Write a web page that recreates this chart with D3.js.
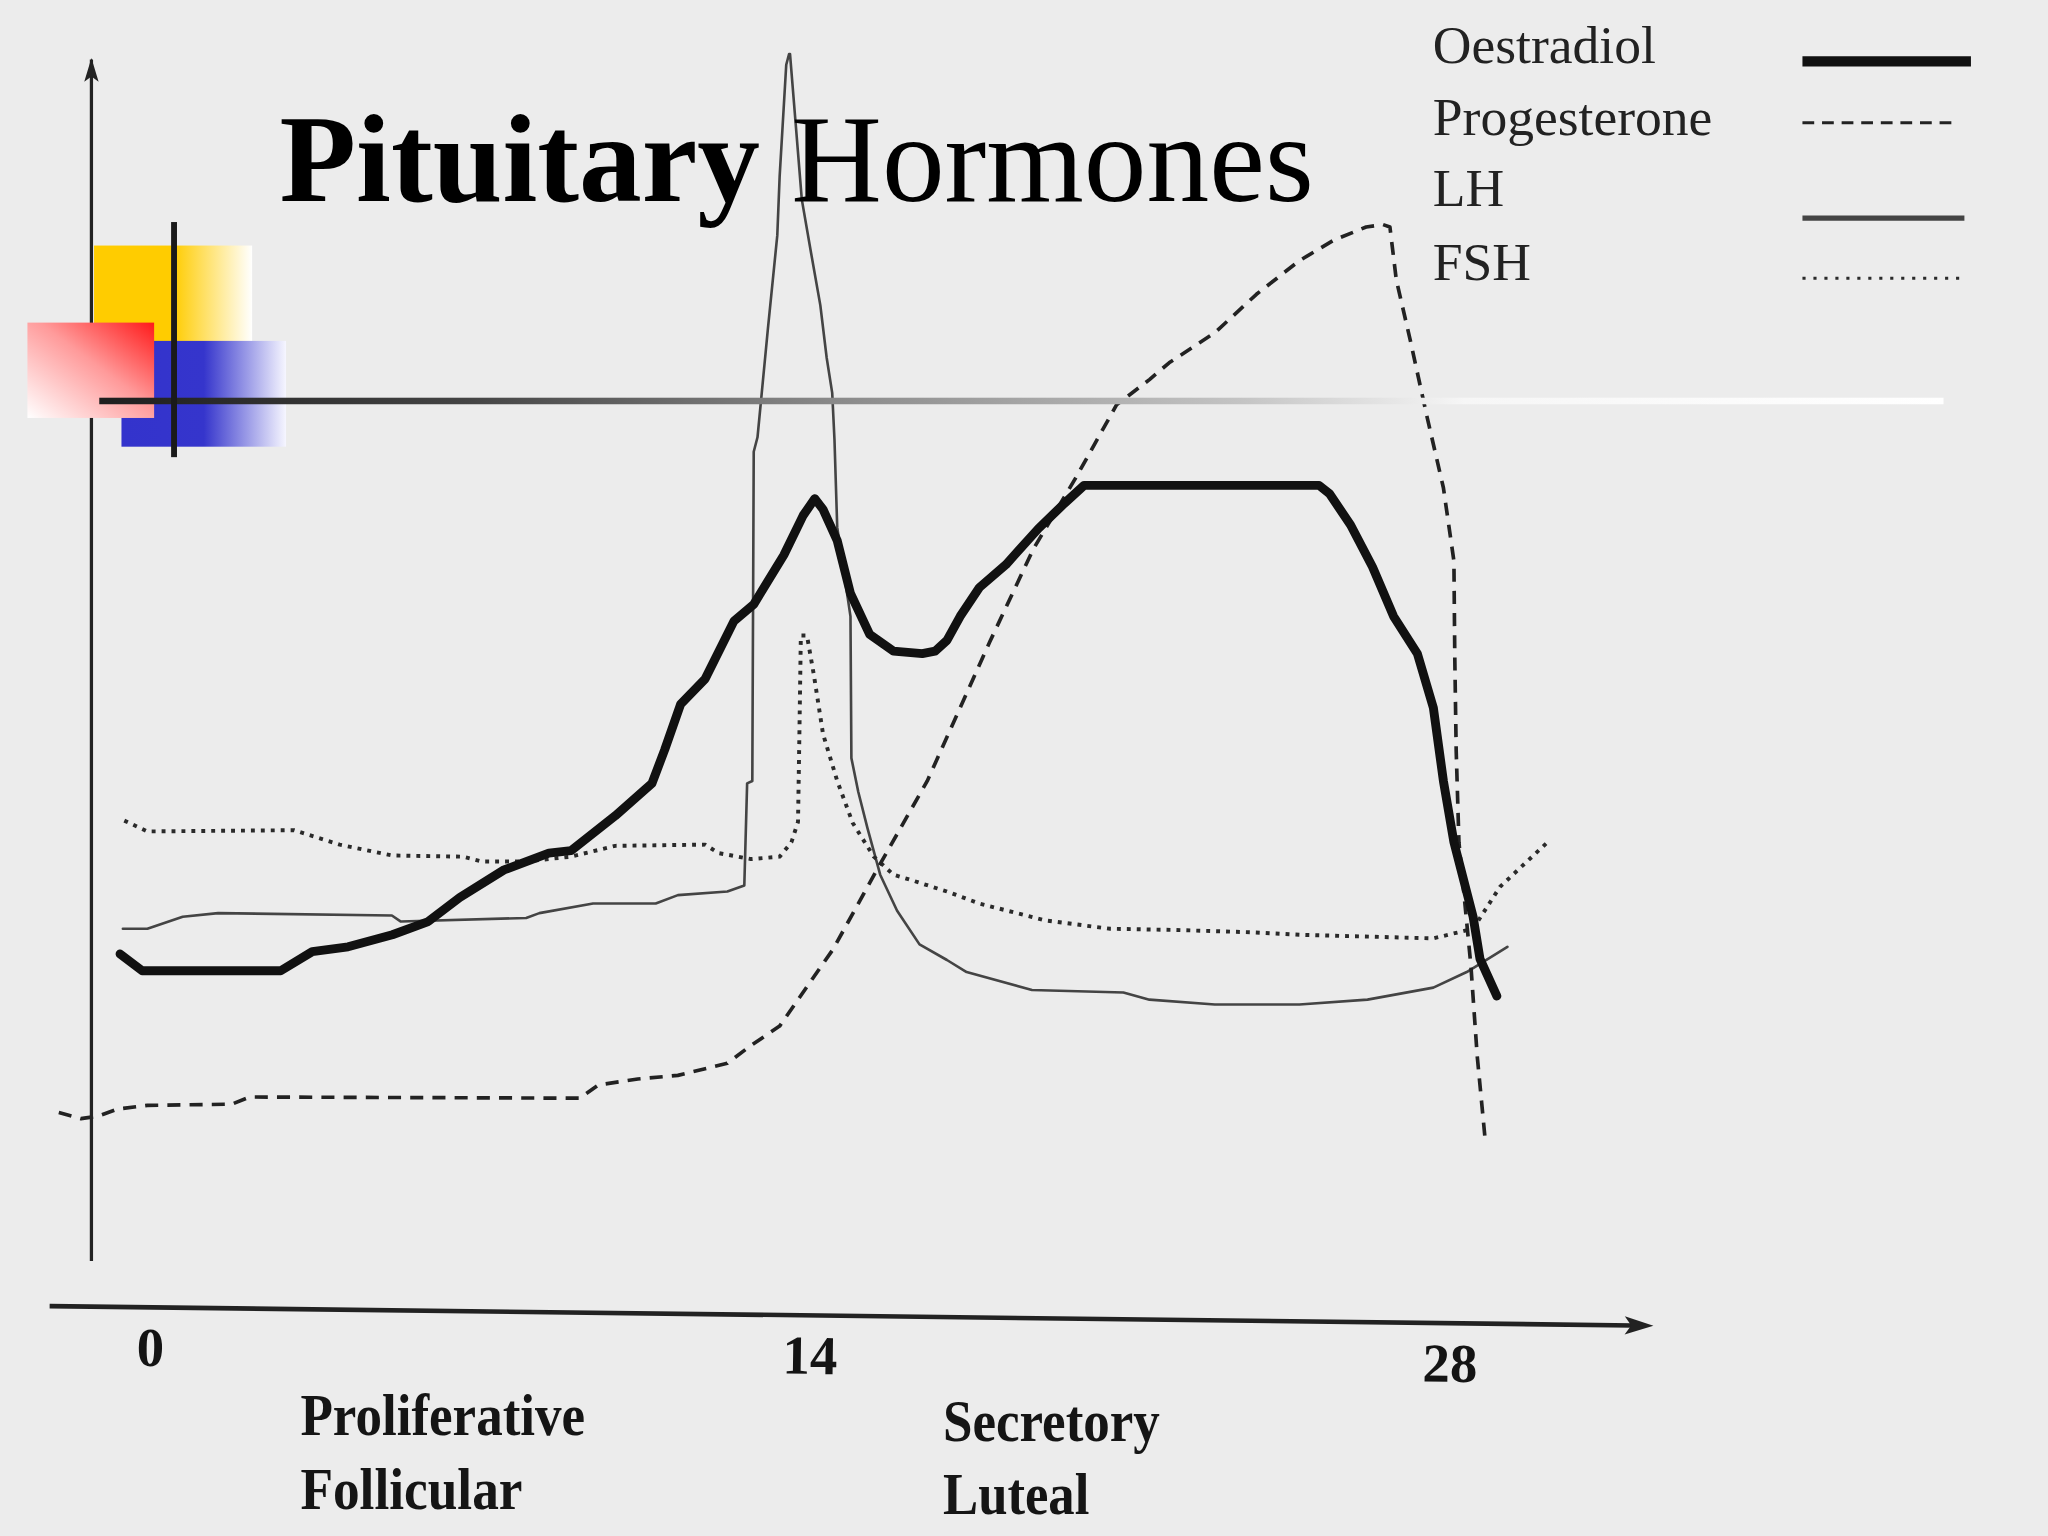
<!DOCTYPE html>
<html>
<head>
<meta charset="utf-8">
<script src="https://cdn.jsdelivr.net/npm/d3@7"></script>
<style>
  html, body { margin: 0; padding: 0; background: #ececec; }
  svg { display: block; }
</style>
</head>
<body>
<div id="chart"></div>
<script>
// cycle day on x, relative level (0-100) on y
const tickDays = [0, 14, 28];
const hormones = ["Oestradiol", "Progesterone", "LH", "FSH"];
const phaseTop = ["Proliferative", "Secretory"];
const phaseBottom = ["Follicular", "Luteal"];

const oestradiol = [
  [-0.64, 25.5], [-0.17, 24.1], [2.77, 24.1], [3.44, 25.7], [4.2, 26.1], [5.14, 27.1],
  [5.9, 28.2], [6.57, 30.2], [7.51, 32.5], [8.46, 33.9], [8.93, 34.1], [9.87, 37.0],
  [10.65, 39.7], [10.92, 42.5], [11.26, 46.3], [11.78, 48.4], [12.39, 53.2], [12.81, 54.6],
  [13.45, 58.7], [13.86, 62.0], [14.11, 63.4], [14.29, 62.5], [14.6, 59.9], [14.89, 55.5],
  [15.31, 52.1], [15.83, 50.7], [16.46, 50.5], [16.74, 50.7], [17.0, 51.6], [17.29, 53.6],
  [17.71, 56.0], [18.29, 57.9], [19.0, 60.9], [19.57, 63.0], [20.0, 64.5], [25.14, 64.5],
  [25.37, 63.8], [25.83, 61.2], [26.31, 57.7], [26.77, 53.6], [27.29, 50.5], [27.64, 46.0],
  [27.86, 39.9], [28.09, 34.8], [28.51, 28.6], [28.66, 25.1], [29.03, 22.0]
];

const progesterone = [
  [-1.94, 12.3], [-1.47, 11.8], [-1.11, 12.0], [-0.69, 12.6], [-0.06, 12.9], [1.73, 13.0],
  [2.11, 13.6], [9.12, 13.5], [9.51, 14.6], [10.35, 15.1], [11.2, 15.4], [12.25, 16.4],
  [12.72, 17.8], [13.36, 19.5], [14.51, 25.9], [15.54, 33.0], [16.57, 39.9], [17.94, 51.5],
  [18.89, 59.2], [19.83, 65.2], [20.71, 71.2], [21.43, 73.3], [21.86, 74.7], [22.86, 77.2],
  [23.77, 80.4], [24.71, 83.2], [25.46, 84.9], [26.17, 86.0], [26.54, 86.2], [26.69, 86.0],
  [26.83, 81.6], [27.14, 76.5], [27.49, 70.4], [27.86, 64.3], [28.09, 58.2], [28.11, 50.0],
  [28.14, 42.4], [28.2, 34.8], [28.46, 24.6], [28.6, 17.0], [28.77, 10.2]
];

const lh = [
  [-0.58, 27.6], [-0.06, 27.6], [0.69, 28.6], [1.44, 28.9], [5.13, 28.7], [5.32, 28.2],
  [7.98, 28.5], [8.26, 28.9], [9.4, 29.7], [10.73, 29.7], [11.2, 30.4], [12.25, 30.7],
  [12.61, 31.2], [12.67, 39.7], [12.78, 39.9], [12.81, 67.3], [12.89, 68.5], [13.11, 77.5],
  [13.31, 85.3], [13.36, 90.2], [13.5, 99.5], [13.56, 100.4], [13.58, 100.4], [13.7, 94.6],
  [13.83, 88.3], [14.03, 83.8], [14.23, 79.5], [14.37, 75.1], [14.49, 72.2], [14.54, 68.3],
  [14.6, 61.0], [14.89, 53.6], [14.91, 41.8], [15.06, 39.0], [15.26, 36.0], [15.54, 32.1],
  [15.91, 29.1], [16.4, 26.3], [17.0, 25.0], [17.43, 24.0], [18.86, 22.5], [20.86, 22.3],
  [21.43, 21.7], [22.86, 21.3], [24.71, 21.3], [26.2, 21.7], [27.64, 22.7], [28.37, 24.0],
  [29.26, 26.1]
];

const fsh = [
  [-0.55, 36.6], [-0.06, 35.7], [3.05, 35.8], [4.02, 34.6], [5.13, 33.7], [6.65, 33.6],
  [7.04, 33.2], [7.98, 33.2], [8.93, 33.6], [9.87, 34.5], [11.78, 34.6], [12.06, 33.9],
  [12.75, 33.4], [13.36, 33.6], [13.61, 34.8], [13.75, 36.5], [13.78, 44.0], [13.81, 52.0],
  [13.94, 52.0], [14.09, 48.7], [14.29, 43.8], [14.6, 39.9], [14.94, 36.4], [15.4, 33.6],
  [15.83, 32.1], [16.26, 31.6], [17.0, 30.7], [17.71, 29.7], [19.14, 28.3], [20.57, 27.6],
  [22.0, 27.5], [23.71, 27.3], [24.71, 27.1], [27.64, 26.8], [28.51, 27.6], [29.1, 31.1],
  [30.11, 34.7]
];

(function () {
  const width = 1568;
  const height = 1176;
  const serif = "'Liberation Serif', 'Times New Roman', serif";

  const svg = d3
    .select("#chart")
    .append("svg")
    .attr("width", 2048)
    .attr("height", 1536)
    .attr("viewBox", [0, 0, width, height]);

  svg.append("rect").attr("width", width).attr("height", height).attr("fill", "#ececec");

  const defs = svg.append("defs");

  const addGradient = (id, coords, stops) => {
    const grad = defs.append("linearGradient").attr("id", id);
    Object.entries(coords).forEach(([k, v]) => grad.attr(k, v));
    grad
      .selectAll("stop")
      .data(stops)
      .join("stop")
      .attr("offset", d => d[0])
      .attr("stop-color", d => d[1]);
  };

  addGradient("yellowFade", { x1: 0, y1: 0, x2: 1, y2: 0 }, [[0, "#ffcc00"], [0.5, "#ffcc00"], [1, "#ffffff"]]);
  addGradient("blueFade", { x1: 0, y1: 0, x2: 1, y2: 0 }, [[0, "#3333cc"], [0.5, "#3535cc"], [1, "#f6f6ff"]]);
  addGradient("redFade", { x1: 0, y1: 1, x2: 1, y2: 0 }, [[0, "#ffffff"], [0.55, "#ff9a9a"], [1, "#ff1a1a"]]);
  addGradient("ruleFade", { x1: 0, y1: 0, x2: 1, y2: 0 }, [
    [0, "#1e1e1e"], [0.2, "#444"], [0.4, "#8a8a8a"], [0.62, "#c4c4c4"], [0.74, "#f6f6f6"], [1, "#ffffff"]
  ]);

  defs
    .append("marker")
    .attr("id", "arrowUp")
    .attr("viewBox", "0 0 18 11")
    .attr("refX", 17)
    .attr("refY", 5.5)
    .attr("markerUnits", "userSpaceOnUse")
    .attr("markerWidth", 18)
    .attr("markerHeight", 11)
    .attr("orient", "auto")
    .append("path")
    .attr("d", "M0,0L18,5.5L0,11L4,5.5Z")
    .attr("fill", "#222");

  const xScale = d3.scaleLinear().domain([0, 14, 28]).range([115, 620, 1110]);
  const yScale = d3.scaleLinear().domain([0, 100]).range([965, 45]);

  // y axis: plain arrowed line, no ticks
  const yAxisG = svg
    .append("g")
    .attr("transform", "translate(69.5, 0)")
    .call(d3.axisLeft(yScale).tickValues([]).tickSizeOuter(0));
  yAxisG.select(".domain").attr("stroke", "#222").attr("stroke-width", 2.5).attr("marker-end", "url(#arrowUp)");

  // x axis, slightly tilted as in the scan
  const xAxisG = svg
    .append("g")
    .attr("transform", "rotate(0.7, 38, 1000) translate(0, 1000)")
    .call(d3.axisBottom(xScale).tickValues(tickDays).tickSize(0).tickPadding(15));
  xAxisG.select(".domain").remove();
  xAxisG
    .selectAll(".tick text")
    .attr("font-family", serif)
    .attr("font-weight", "bold")
    .attr("font-size", 42)
    .attr("fill", "#141414");

  xAxisG
    .append("line")
    .attr("x1", 38)
    .attr("x2", 1250)
    .attr("y1", 0)
    .attr("y2", 0)
    .attr("stroke", "#222")
    .attr("stroke-width", 3.5);
  xAxisG.append("path").attr("d", "M1266,0L1244,-7L1249,0L1244,7Z").attr("fill", "#222");

  // phase labels
  const phaseX = [230, 722];
  const phaseLen = [[218, 170], [166, 112]];
  svg
    .selectAll(".phaseTop")
    .data(phaseTop)
    .join("text")
    .attr("class", "phaseTop")
    .attr("x", (d, i) => phaseX[i])
    .attr("y", (d, i) => (i === 0 ? 1099 : 1103))
    .attr("textLength", (d, i) => phaseLen[i][0])
    .attr("lengthAdjust", "spacingAndGlyphs")
    .attr("font-family", serif)
    .attr("font-weight", "bold")
    .attr("font-size", 45)
    .attr("fill", "#151515")
    .text(d => d);
  svg
    .selectAll(".phaseBottom")
    .data(phaseBottom)
    .join("text")
    .attr("class", "phaseBottom")
    .attr("x", (d, i) => phaseX[i])
    .attr("y", (d, i) => (i === 0 ? 1155 : 1159))
    .attr("textLength", (d, i) => phaseLen[i][1])
    .attr("lengthAdjust", "spacingAndGlyphs")
    .attr("font-family", serif)
    .attr("font-weight", "bold")
    .attr("font-size", 45)
    .attr("fill", "#151515")
    .text(d => d);

  // hormone curves
  const lineStyle = {
    Oestradiol: { width: 6.8, dash: null, color: "#111" },
    Progesterone: { width: 2.8, dash: "10,7", color: "#222" },
    LH: { width: 2, dash: null, color: "#444" },
    FSH: { width: 3, dash: "3,4.6", color: "#2a2a2a" },
  };
  const seriesData = [oestradiol, progesterone, lh, fsh];

  const line = d3
    .line()
    .x(d => xScale(d[0]))
    .y(d => yScale(d[1]))
    .curve(d3.curveLinear);

  const drawOrder = [2, 3, 1, 0];
  svg
    .append("g")
    .attr("class", "curves")
    .selectAll("path")
    .data(drawOrder)
    .join("path")
    .attr("d", i => line(seriesData[i]))
    .attr("fill", "none")
    .attr("stroke", i => lineStyle[hormones[i]].color)
    .attr("stroke-width", i => lineStyle[hormones[i]].width)
    .attr("stroke-dasharray", i => lineStyle[hormones[i]].dash)
    .attr("stroke-linejoin", "round")
    .attr("stroke-linecap", i => (lineStyle[hormones[i]].dash ? "butt" : "round"));

  // legend
  const legendTextY = [48.5, 103.5, 158, 214];
  const legendLineY = [47, 94, 167, 213];
  const legendLineEnd = [1509, 1500, 1504, 1502];
  const legend = svg.append("g").attr("class", "legend");
  legend
    .selectAll("text")
    .data(hormones)
    .join("text")
    .attr("x", 1097)
    .attr("y", (d, i) => legendTextY[i])
    .attr("font-family", serif)
    .attr("font-size", 41)
    .attr("fill", "#222")
    .text(d => d);
  legend
    .selectAll("line")
    .data(hormones)
    .join("line")
    .attr("x1", 1380)
    .attr("x2", (d, i) => legendLineEnd[i])
    .attr("y1", (d, i) => legendLineY[i])
    .attr("y2", (d, i) => legendLineY[i])
    .attr("stroke", d => lineStyle[d].color)
    .attr("stroke-width", d => (d === "Oestradiol" ? 8 : d === "LH" ? 4 : 2.4))
    .attr("stroke-dasharray", d => (d === "Progesterone" ? "9,6" : d === "FSH" ? "2.4,6" : null));

  // title
  const title = svg
    .append("text")
    .attr("x", 214)
    .attr("y", 154)
    .attr("font-family", serif)
    .attr("font-size", 96)
    .attr("fill", "#000");
  title.append("tspan").attr("font-weight", "bold").text("Pituitary");
  title.append("tspan").text(" Hormones");

  // slide decoration
  const deco = svg.append("g").attr("class", "deco");
  deco.append("rect").attr("x", 72).attr("y", 188).attr("width", 121).attr("height", 74).attr("fill", "url(#yellowFade)");
  deco.append("rect").attr("x", 93).attr("y", 261).attr("width", 126).attr("height", 81).attr("fill", "url(#blueFade)");
  deco.append("rect").attr("x", 21).attr("y", 247).attr("width", 97).attr("height", 73).attr("fill", "url(#redFade)");
  deco.append("rect").attr("x", 76).attr("y", 304.5).attr("width", 1412).attr("height", 5).attr("fill", "url(#ruleFade)");
  deco.append("rect").attr("x", 131).attr("y", 170).attr("width", 4.5).attr("height", 180).attr("fill", "#1a1a1a");
})();
</script>
</body>
</html>
